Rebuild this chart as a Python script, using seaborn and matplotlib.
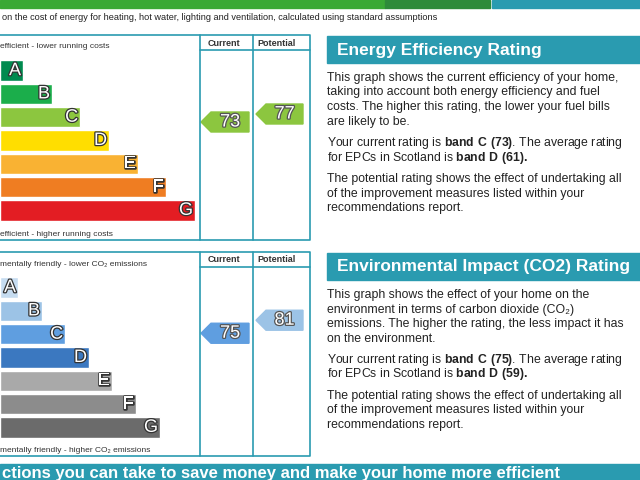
import numpy as np
import pandas as pd
import matplotlib
matplotlib.use('Agg')
import matplotlib.pyplot as plt
import matplotlib.patheffects as pe
from matplotlib.patches import Polygon, Rectangle
import seaborn as sns

# ─── Data ─────────────────────────────────────────────────────────────────────
bands = ["A", "B", "C", "D", "E", "F", "G"]
energy_len = [23, 52, 80, 109, 138, 166, 195]
env_len = [18, 42, 65, 89, 112, 136, 160]
energy_colors = ["#008a4f", "#1bae4b", "#8cc63f", "#ffde00", "#f9b233", "#ef7d22", "#e31d23"]
env_colors = ["#c6dcf0", "#9cc3e6", "#5f9ee0", "#3b78c0", "#a9a9a9", "#8c8c8c", "#6b6b6b"]
energy_current, energy_potential = 73, 77
env_current, env_potential = 75, 81

TEAL = "#2a9bb0"
sns.set_style("white")
plt.rcParams['font.family'] = ['Liberation Sans', 'DejaVu Sans']
plt.rcParams['mathtext.fontset'] = 'custom'
plt.rcParams['mathtext.rm'] = 'Liberation Sans'
plt.rcParams['mathtext.bf'] = 'Liberation Sans:bold'

fig = plt.figure(figsize=(6.4, 4.8), dpi=100)
ax = fig.add_axes([0, 0, 1, 1])
ax.set_xlim(0, 640); ax.set_ylim(480, 0); ax.axis('off')

def px_axes(x0, y0, x1, y1):
    return fig.add_axes([x0 / 640, 1 - y1 / 480, (x1 - x0) / 640, (y1 - y0) / 480])

# banners
ax.add_patch(Rectangle((0, 0), 385, 8, color="#3aa935"))
ax.add_patch(Rectangle((385, 0), 105, 8, color="#2e8b3a"))
ax.add_patch(Rectangle((492, 0), 148, 8, color=TEAL))
ax.add_patch(Rectangle((0, 464), 640, 16, color=TEAL))
ax.text(2, 481, "ctions you can take to save money and make your home more efficient",
        color="white", fontsize=12, fontweight='bold', va='bottom')
ax.text(2, 18, "on the cost of energy for heating, hot water, lighting and ventilation, calculated using standard assumptions",
        fontsize=6.6, va='center', color="#222")

def chart(y0, y1, lens, colors, cur, pot, top_lbl, bot_lbl, slope, icpt):
    ax.plot([0, 310, 310, 0], [y0, y0, y1, y1], color=TEAL, lw=1.2)
    for xv in (200, 253):
        ax.plot([xv, xv], [y0, y1], color=TEAL, lw=1.2)
    ax.plot([200, 310], [y0 + 15, y0 + 15], color=TEAL, lw=1.2)
    ax.text(224, y0 + 8, "Current", fontsize=6.5, fontweight='bold', ha='center', va='center', color="#333")
    ax.text(277, y0 + 8, "Potential", fontsize=6.5, fontweight='bold', ha='center', va='center', color="#333")
    ax.text(0, y0 + 12, top_lbl, fontsize=6, va='center', color="#333")
    ax.text(0, y1 - 6, bot_lbl, fontsize=6, va='center', color="#333")
    bax = px_axes(0, y0 + 24, 199, y0 + 187)
    df = pd.DataFrame({"band": bands, "len": lens})
    sns.barplot(data=df, x="len", y="band", hue="band", palette=colors, orient='h',
                width=0.88, ax=bax, legend=False, saturation=1)
    bax.set_xlim(0, 199); bax.axis('off')
    for i, (b, l) in enumerate(zip(bands, lens)):
        bax.text(l - 2, i, b, ha='right', va='center', fontsize=13, color="white",
                 path_effects=[pe.withStroke(linewidth=1.8, foreground="#333")])
    band_col = {b: c for b, c in zip(bands, colors)}
    def band_of(r):
        lims = [92, 81, 69, 55, 39, 21, 1]
        for b, lo in zip(bands, lims):
            if r >= lo:
                return b
    for r, xl, xr in ((cur, 201, 249), (pot, 256, 303)):
        yc = icpt - slope * r
        h = 10
        ax.add_patch(Polygon([(xl, yc), (xl + 10, yc - h), (xr, yc - h), (xr, yc + h), (xl + 10, yc + h)],
                             color=band_col[band_of(r)]))
        ax.text((xl + xr) / 2 + 5, yc, str(r), ha='center', va='center', fontsize=13, color="white",
                path_effects=[pe.withStroke(linewidth=1.8, foreground="#555")])

chart(35, 240, energy_len, energy_colors, energy_current, energy_potential,
      "efficient - lower running costs", "efficient - higher running costs", 2.0, 268)
chart(252, 456, env_len, env_colors, env_current, env_potential,
      "mentally friendly - lower CO\u2082 emissions", "mentally friendly - higher CO\u2082 emissions", 2.17, 496)

def panel(y0, title, paras):
    ax.add_patch(Rectangle((327, y0), 313, 27, color=TEAL))
    ax.text(337, y0 + 14, title, color="white", fontsize=12.5, fontweight='bold', va='center')
    y = y0 + 42
    for lines in paras:
        for ln in lines:
            ax.text(327, y, ln, fontsize=8.8, va='center', color="#222")
            y += 14.5
        y += 7

panel(36, "Energy Efficiency Rating", [
    ["This graph shows the current efficiency of your home,",
     "taking into account both energy efficiency and fuel",
     "costs. The higher this rating, the lower your fuel bills",
     "are likely to be."],
    ["Your current rating is $\\bf{band\\ C\\ (73)}$. The average rating",
     "for EPCs in Scotland is $\\bf{band\\ D\\ (61).}$"],
    ["The potential rating shows the effect of undertaking all",
     "of the improvement measures listed within your",
     "recommendations report."]])
panel(253, "Environmental Impact (CO2) Rating", [
    ["This graph shows the effect of your home on the",
     "environment in terms of carbon dioxide (CO\u2082)",
     "emissions. The higher the rating, the less impact it has",
     "on the environment."],
    ["Your current rating is $\\bf{band\\ C\\ (75)}$. The average rating",
     "for EPCs in Scotland is $\\bf{band\\ D\\ (59).}$"],
    ["The potential rating shows the effect of undertaking all",
     "of the improvement measures listed within your",
     "recommendations report."]])

fig.savefig("out.png", dpi=100)
